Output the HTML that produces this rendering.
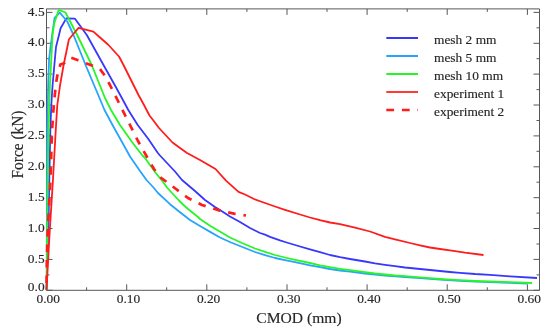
<!DOCTYPE html><html><head><meta charset="utf-8"><title>Force vs CMOD</title>
<style>html,body{margin:0;padding:0;background:#fff}svg{display:block}text{font-family:"Liberation Serif",serif;fill:#262626;stroke:#262626;stroke-width:.15px}</style></head><body>
<svg width="550" height="331" viewBox="0 0 550 331">
<rect width="550" height="331" fill="#fff"/>
<path d="M46.5,8.9H539.5V290.3H46.5ZM46.5,290.3v-6M46.5,8.9v6M86.6,290.3v-3M86.6,8.9v3M126.7,290.3v-6M126.7,8.9v6M166.7,290.3v-3M166.7,8.9v3M206.8,290.3v-6M206.8,8.9v6M246.9,290.3v-3M246.9,8.9v3M287.0,290.3v-6M287.0,8.9v6M327.0,290.3v-3M327.0,8.9v3M367.1,290.3v-6M367.1,8.9v6M407.2,290.3v-3M407.2,8.9v3M447.2,290.3v-6M447.2,8.9v6M487.3,290.3v-3M487.3,8.9v3M527.4,290.3v-6M527.4,8.9v6M46.5,290.3h6M539.5,290.3h-6M46.5,274.9h3M539.5,274.9h-3M46.5,259.4h6M539.5,259.4h-6M46.5,244.0h3M539.5,244.0h-3M46.5,228.5h6M539.5,228.5h-6M46.5,213.1h3M539.5,213.1h-3M46.5,197.7h6M539.5,197.7h-6M46.5,182.2h3M539.5,182.2h-3M46.5,166.8h6M539.5,166.8h-6M46.5,151.3h3M539.5,151.3h-3M46.5,135.9h6M539.5,135.9h-6M46.5,120.5h3M539.5,120.5h-3M46.5,105.0h6M539.5,105.0h-6M46.5,89.6h3M539.5,89.6h-3M46.5,74.1h6M539.5,74.1h-6M46.5,58.7h3M539.5,58.7h-3M46.5,43.3h6M539.5,43.3h-6M46.5,27.8h3M539.5,27.8h-3M46.5,12.4h6M539.5,12.4h-6" fill="none" stroke="#585858" stroke-width="1"/>
<clipPath id="c"><rect x="45.0" y="8.9" width="494.5" height="282.00000000000006"/></clipPath>
<g clip-path="url(#c)">
<polyline points="46.5,290.0 47.9,235.0 48.7,214.0 49.3,179.0 50.3,131.0 51.3,105.0 52.6,85.0 54.9,59.0 56.0,47.0 59.0,35.0 60.6,28.3 66.3,18.4 75.0,18.7 86.8,35.0 103.5,65.0 115.0,85.5 121.7,97.7 128.3,110.0 137.7,125.0 148.0,138.5 157.5,152.5 159.5,155.0 175.0,171.5 182.0,180.0 195.0,191.0 205.0,200.0 215.0,207.0 221.5,211.0 230.0,216.5 240.0,222.0 250.0,228.0 255.0,230.5 260.0,233.0 265.0,234.7 270.0,236.8 275.0,238.6 280.0,240.4 285.0,242.0 295.0,245.0 310.0,249.3 320.0,252.2 330.0,255.0 340.0,257.2 350.0,259.0 365.0,261.5 375.0,263.3 385.0,264.8 395.0,266.2 405.0,267.5 420.0,269.0 430.0,270.0 440.0,271.0 450.0,272.0 460.0,272.8 475.0,274.0 490.0,274.8 510.0,276.3 537.0,278.0" fill="none" stroke="#3838fc" stroke-width="1.8" stroke-linejoin="round" />
<polyline points="46.7,290.0 46.8,235.0 47.0,179.0 47.3,131.0 47.8,105.0 48.2,83.0 49.1,59.0 50.5,47.0 54.5,18.0 59.8,12.6 67.3,21.5 73.5,35.0 86.0,66.0 99.5,98.0 104.5,110.0 112.5,125.0 122.0,142.0 130.0,156.5 140.0,171.0 146.5,180.0 153.5,187.5 158.0,193.0 170.0,204.2 180.0,212.3 190.0,220.0 200.0,226.0 211.0,232.4 220.0,237.5 231.0,242.5 255.0,252.0 265.0,255.2 275.0,258.0 285.0,260.2 295.0,262.2 310.0,265.3 320.0,267.2 330.0,269.0 340.0,270.5 350.0,271.7 365.0,273.5 385.0,275.6 405.0,277.0 420.0,278.1 440.0,279.7 460.0,280.9 475.0,281.7 490.0,282.2 510.0,282.9 527.5,283.5" fill="none" stroke="#28a4fc" stroke-width="1.8" stroke-linejoin="round" />
<polyline points="46.6,290.0 47.2,235.0 47.8,179.0 48.5,131.0 49.3,105.0 50.0,83.0 51.3,59.0 52.5,35.0 54.2,23.5 58.8,9.8 65.5,12.5 77.2,35.0 91.7,65.0 105.0,98.0 111.0,110.0 120.0,125.0 132.0,142.0 142.0,155.0 145.0,158.0 155.0,172.0 161.5,180.0 167.0,187.5 172.0,193.0 178.5,200.0 183.0,204.5 188.0,209.0 193.0,213.0 198.0,217.0 200.0,219.0 210.0,225.8 221.5,232.5 230.0,237.5 242.0,243.0 255.0,248.5 265.0,251.8 275.0,255.0 285.0,257.5 295.0,259.8 310.0,263.0 320.0,265.3 330.0,267.2 340.0,268.8 350.0,270.2 365.0,272.1 375.0,273.5 385.0,274.5 395.0,275.5 405.0,276.2 420.0,277.4 430.0,278.2 440.0,279.0 450.0,279.6 460.0,280.2 475.0,281.0 490.0,281.5 510.0,282.2 532.0,283.0" fill="none" stroke="#28f528" stroke-width="1.8" stroke-linejoin="round" />
<polyline points="46.5,290.0 49.5,235.0 53.0,179.0 55.7,131.0 57.3,105.0 60.1,85.0 63.6,65.0 68.9,39.5 72.5,35.0 78.6,27.8 93.4,31.6 100.0,37.5 108.0,44.5 119.0,56.5 123.5,65.0 132.0,82.0 138.5,95.0 144.0,105.0 149.5,115.5 153.0,120.0 159.0,128.0 172.5,142.5 180.0,148.0 187.0,153.0 200.0,160.0 215.5,169.0 226.0,180.7 238.5,191.8 245.0,194.5 254.0,199.0 265.0,203.0 275.0,206.5 285.0,209.8 300.0,214.5 310.0,217.5 320.0,220.2 330.0,222.5 340.0,224.2 355.0,227.7 370.0,231.5 385.0,236.8 395.0,239.3 410.0,243.0 420.0,245.3 430.0,247.5 440.0,249.0 450.0,250.3 465.0,252.7 483.5,255.0" fill="none" stroke="#ff1c1c" stroke-width="1.8" stroke-linejoin="round" />
<polyline points="46.5,290.0 46.9,260.0 47.3,240.0 48.6,214.0 49.4,200.0 50.5,179.0 52.0,131.0 53.8,105.0 55.8,85.0 57.1,76.7 59.5,67.6 60.3,64.6 64.0,63.2 70.9,57.7 77.5,60.0 92.0,65.6 99.6,68.5 104.0,74.5 110.0,85.0 120.0,105.0 130.0,125.0 138.0,141.0 147.0,157.0 154.0,169.0 160.0,177.0 176.0,189.0 188.0,198.0 202.0,205.0 220.0,210.6 234.0,213.6 246.0,215.5" fill="none" stroke="#ff1c1c" stroke-width="2.7" stroke-linejoin="round" stroke-dasharray="7.6 7.9" stroke-dashoffset="8.6"/>
</g>
<text x="48.3" y="303.4" font-size="13.4" text-anchor="middle">0.00</text>
<text x="128.5" y="303.4" font-size="13.4" text-anchor="middle">0.10</text>
<text x="208.6" y="303.4" font-size="13.4" text-anchor="middle">0.20</text>
<text x="288.8" y="303.4" font-size="13.4" text-anchor="middle">0.30</text>
<text x="368.9" y="303.4" font-size="13.4" text-anchor="middle">0.40</text>
<text x="449.1" y="303.4" font-size="13.4" text-anchor="middle">0.50</text>
<text x="529.2" y="303.4" font-size="13.4" text-anchor="middle">0.60</text>
<text x="44.6" y="290.7" font-size="13.4" text-anchor="end">0.0</text>
<text x="44.6" y="262.5" font-size="13.4" text-anchor="end">0.5</text>
<text x="44.6" y="231.6" font-size="13.4" text-anchor="end">1.0</text>
<text x="44.6" y="200.8" font-size="13.4" text-anchor="end">1.5</text>
<text x="44.6" y="169.9" font-size="13.4" text-anchor="end">2.0</text>
<text x="44.6" y="139.0" font-size="13.4" text-anchor="end">2.5</text>
<text x="44.6" y="108.1" font-size="13.4" text-anchor="end">3.0</text>
<text x="44.6" y="77.2" font-size="13.4" text-anchor="end">3.5</text>
<text x="44.6" y="46.4" font-size="13.4" text-anchor="end">4.0</text>
<text x="44.6" y="15.5" font-size="13.4" text-anchor="end">4.5</text>
<text x="299" y="322.9" font-size="15.6" text-anchor="middle">CMOD (mm)</text>
<text transform="translate(22.5,144.5) rotate(-90) scale(0.95,1)" font-size="16.2" text-anchor="middle">Force (kN)</text>
<line x1="386.3" y1="38" x2="418" y2="38" stroke="#3838fc" stroke-width="1.95"/>
<text x="434" y="44.0" font-size="13.4">mesh 2 mm</text>
<line x1="386.3" y1="56" x2="418" y2="56" stroke="#28a4fc" stroke-width="1.95"/>
<text x="434" y="62.0" font-size="13.4">mesh 5 mm</text>
<line x1="386.3" y1="74" x2="418" y2="74" stroke="#28f528" stroke-width="1.95"/>
<text x="434" y="80.0" font-size="13.4">mesh 10 mm</text>
<line x1="386.3" y1="92" x2="418" y2="92" stroke="#ff1c1c" stroke-width="1.75"/>
<text x="434" y="98.0" font-size="13.4">experiment 1</text>
<line x1="386.3" y1="110" x2="418" y2="110" stroke="#ff1c1c" stroke-width="2.4" stroke-dasharray="7.8 7.8"/>
<text x="434" y="116.0" font-size="13.4">experiment 2</text>
</svg></body></html>
